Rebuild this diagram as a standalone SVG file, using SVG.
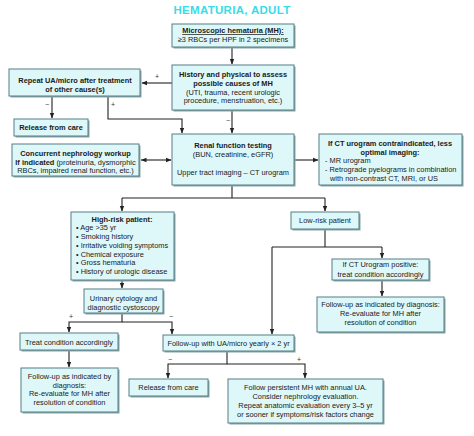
<svg xmlns="http://www.w3.org/2000/svg" width="474" height="436" viewBox="0 0 474 436">
<defs>
<marker id="ah" markerWidth="6" markerHeight="6" refX="5" refY="3" orient="auto" markerUnits="userSpaceOnUse">
<path d="M0,0.8 L5.5,3 L0,5.2 Z" fill="#222"/>
</marker>
<marker id="ahs" markerWidth="6" markerHeight="6" refX="0.5" refY="3" orient="auto" markerUnits="userSpaceOnUse">
<path d="M6,0.8 L0.5,3 L6,5.2 Z" fill="#222"/>
</marker>
</defs>
<style>
text{font-family:"Liberation Sans",Arial,sans-serif;font-size:7.4px;fill:#1a1a1a}
.c{text-anchor:middle}
.b{font-weight:bold}
.u{text-decoration:underline}
.box{fill:#def7f9;stroke:#557f86;stroke-width:1}
.sh{fill:#8aa6aa}
.ln{fill:none;stroke:#222;stroke-width:1.1}
.lb{font-size:7px;fill:#333}
.title{font-size:11.5px;font-weight:bold;fill:#38dce6;text-anchor:middle;letter-spacing:0.3px}
</style>
<rect width="474" height="436" fill="#ffffff"/>
<text class="title" x="232" y="14">HEMATURIA, ADULT</text>

<g id="connectors">
<path class="ln" d="M232,47 V64" marker-end="url(#ah)"/>
<path class="ln" d="M172,83 H142" marker-end="url(#ah)"/>
<path class="ln" d="M52,96 V118" marker-end="url(#ah)"/>
<path class="ln" d="M108,96 V119 H182 V133" marker-end="url(#ah)"/>
<path class="ln" d="M232,110 V133" marker-end="url(#ah)"/>
<path class="ln" d="M141,160 H171" marker-start="url(#ahs)" marker-end="url(#ah)"/>
<path class="ln" d="M294,160 H318" marker-end="url(#ah)"/>
<path class="ln" d="M232,185 V198"/>
<path class="ln" d="M122,198 H325"/>
<path class="ln" d="M122,198 V211" marker-end="url(#ah)"/>
<path class="ln" d="M325,198 V211" marker-end="url(#ah)"/>
<path class="ln" d="M122,280 V288" marker-end="url(#ah)"/>
<path class="ln" d="M325,229 V247"/>
<path class="ln" d="M272,247 H382"/>
<path class="ln" d="M382,247 V258" marker-end="url(#ah)"/>
<path class="ln" d="M382,280 V296" marker-end="url(#ah)"/>
<path class="ln" d="M272,247 V334" marker-end="url(#ah)"/>
<path class="ln" d="M122,313 V322 H69 V332" marker-end="url(#ah)"/>
<path class="ln" d="M122,322 H172 V334" marker-end="url(#ah)"/>
<path class="ln" d="M69,350 V367" marker-end="url(#ah)"/>
<path class="ln" d="M227,351 V364 H168 V378" marker-end="url(#ah)"/>
<path class="ln" d="M227,364 H305 V378" marker-end="url(#ah)"/>
<text class="lb c" x="157" y="79">+</text>
<text class="lb c" x="47" y="107">−</text>
<text class="lb c" x="113" y="107">+</text>
<text class="lb c" x="228" y="123">−</text>
<text class="lb c" x="71" y="319">+</text>
<text class="lb c" x="171" y="319">−</text>
<text class="lb c" x="170" y="362">−</text>
<text class="lb c" x="299" y="362">+</text>
</g>

<g id="n1">
<rect class="sh" x="173.5" y="25.5" width="122" height="23"/>
<rect class="box" x="172" y="24" width="122" height="23"/>
<text class="c b u" x="233" y="33">Microscopic hematuria (MH):</text>
<text class="c" x="233" y="42">≥3 RBCs per HPF in 2 specimens</text>
</g>

<g id="n2">
<rect class="sh" x="173.5" y="66.5" width="122" height="45"/>
<rect class="box" x="172" y="65" width="122" height="45"/>
<text class="c b" x="233" y="77">History and physical to assess</text>
<text class="c b" x="233" y="85.5">possible causes of MH</text>
<text class="c" x="233" y="94.5">(UTI, trauma, recent urologic</text>
<text class="c" x="233" y="103">procedure, menstruation, etc.)</text>
</g>

<g id="n3">
<rect class="sh" x="10.5" y="70.5" width="131" height="27"/>
<rect class="box" x="9" y="69" width="131" height="27"/>
<text class="c b" x="75" y="82.5">Repeat UA/micro after treatment</text>
<text class="c b" x="75" y="91.5">of other cause(s)</text>
</g>

<g id="n4">
<rect class="sh" x="15.5" y="120.5" width="74" height="17"/>
<rect class="box" x="14" y="119" width="74" height="17"/>
<text class="c b" x="51" y="129.5">Release from care</text>
</g>

<g id="n5">
<rect class="sh" x="173.5" y="135.5" width="122" height="51"/>
<rect class="box" x="172" y="134" width="122" height="51"/>
<text class="c b" x="233" y="148">Renal function testing</text>
<text class="c" x="233" y="156.5">(BUN, creatinine, eGFR)</text>
<text class="c" x="233" y="175">Upper tract imaging – CT urogram</text>
</g>

<g id="n6">
<rect class="sh" x="13.5" y="145.5" width="127" height="32"/>
<rect class="box" x="12" y="144" width="127" height="32"/>
<text class="c b" x="75.5" y="156">Concurrent nephrology workup</text>
<text class="c" x="75.5" y="164.5"><tspan class="b">If indicated</tspan> (proteinuria, dysmorphic</text>
<text class="c" x="75.5" y="173">RBCs, impaired renal function, etc.)</text>
</g>

<g id="n7">
<rect class="sh" x="320.5" y="135.5" width="143" height="51"/>
<rect class="box" x="319" y="134" width="143" height="51"/>
<text class="c b" x="390" y="146">If CT urogram contraindicated, less</text>
<text class="c b" x="390" y="154.5">optimal imaging:</text>
<text x="325" y="163">- MR urogram</text>
<text x="325" y="172">- Retrograde pyelograms in combination</text>
<text x="330" y="180.5">with non-contrast CT, MRI, or US</text>
</g>

<g id="n8">
<rect class="sh" x="72.5" y="213.5" width="103" height="68"/>
<rect class="box" x="71" y="212" width="103" height="68"/>
<text class="c b" x="122" y="222">High-risk patient:</text>
<text x="76" y="229.5">•  Age &gt;35 yr</text>
<text x="76" y="238.5">•  Smoking history</text>
<text x="76" y="247.5">•  Irritative voiding symptoms</text>
<text x="76" y="256.5">•  Chemical exposure</text>
<text x="76" y="265">•  Gross hematuria</text>
<text x="76" y="274">•  History of urologic disease</text>
</g>

<g id="n9">
<rect class="sh" x="85.5" y="290.5" width="79" height="24"/>
<rect class="box" x="84" y="289" width="79" height="24"/>
<text class="c" x="123.5" y="300.5">Urinary cytology and</text>
<text class="c" x="123.5" y="309.5">diagnostic cystoscopy</text>
</g>

<g id="n10">
<rect class="sh" x="292.5" y="213.5" width="68" height="17"/>
<rect class="box" x="291" y="212" width="68" height="17"/>
<text class="c" x="325" y="223">Low-risk patient</text>
</g>

<g id="n11">
<rect class="sh" x="333.5" y="260.5" width="97" height="21"/>
<rect class="box" x="332" y="259" width="97" height="21"/>
<text class="c" x="380.5" y="267">If CT Urogram positive:</text>
<text class="c" x="380.5" y="277">treat condition accordingly</text>
</g>

<g id="n12">
<rect class="sh" x="318.5" y="298.5" width="127" height="35"/>
<rect class="box" x="317" y="297" width="127" height="35"/>
<text class="c" x="380.5" y="307">Follow-up as indicated by diagnosis:</text>
<text class="c" x="380.5" y="316">Re-evaluate for MH after</text>
<text class="c" x="380.5" y="325">resolution of condition</text>
</g>

<g id="n13">
<rect class="sh" x="21.5" y="334.5" width="98" height="17"/>
<rect class="box" x="20" y="333" width="98" height="17"/>
<text class="c" x="69" y="344.5">Treat condition accordingly</text>
</g>

<g id="n14">
<rect class="sh" x="22.5" y="369.5" width="97" height="44"/>
<rect class="box" x="21" y="368" width="97" height="44"/>
<text class="c" x="69.5" y="379">Follow-up as indicated by</text>
<text class="c" x="69.5" y="387.5">diagnosis:</text>
<text class="c" x="69.5" y="396">Re-evaluate for MH after</text>
<text class="c" x="69.5" y="405">resolution of condition</text>
</g>

<g id="n15">
<rect class="sh" x="164.5" y="336.5" width="131" height="16"/>
<rect class="box" x="163" y="335" width="131" height="16"/>
<text class="c" x="228.5" y="345.5">Follow-up with UA/micro yearly × 2 yr</text>
</g>

<g id="n16">
<rect class="sh" x="130.5" y="380.5" width="79" height="17"/>
<rect class="box" x="129" y="379" width="79" height="17"/>
<text class="c" x="168.5" y="390">Release from care</text>
</g>

<g id="n17">
<rect class="sh" x="229.5" y="380.5" width="155" height="44"/>
<rect class="box" x="228" y="379" width="155" height="44"/>
<text class="c" x="305.5" y="390">Follow persistent MH with annual UA.</text>
<text class="c" x="305.5" y="399">Consider nephrology evaluation.</text>
<text class="c" x="305.5" y="408">Repeat anatomic evaluation every 3–5 yr</text>
<text class="c" x="305.5" y="416.5">or sooner if symptoms/risk factors change</text>
</g>
</svg>
